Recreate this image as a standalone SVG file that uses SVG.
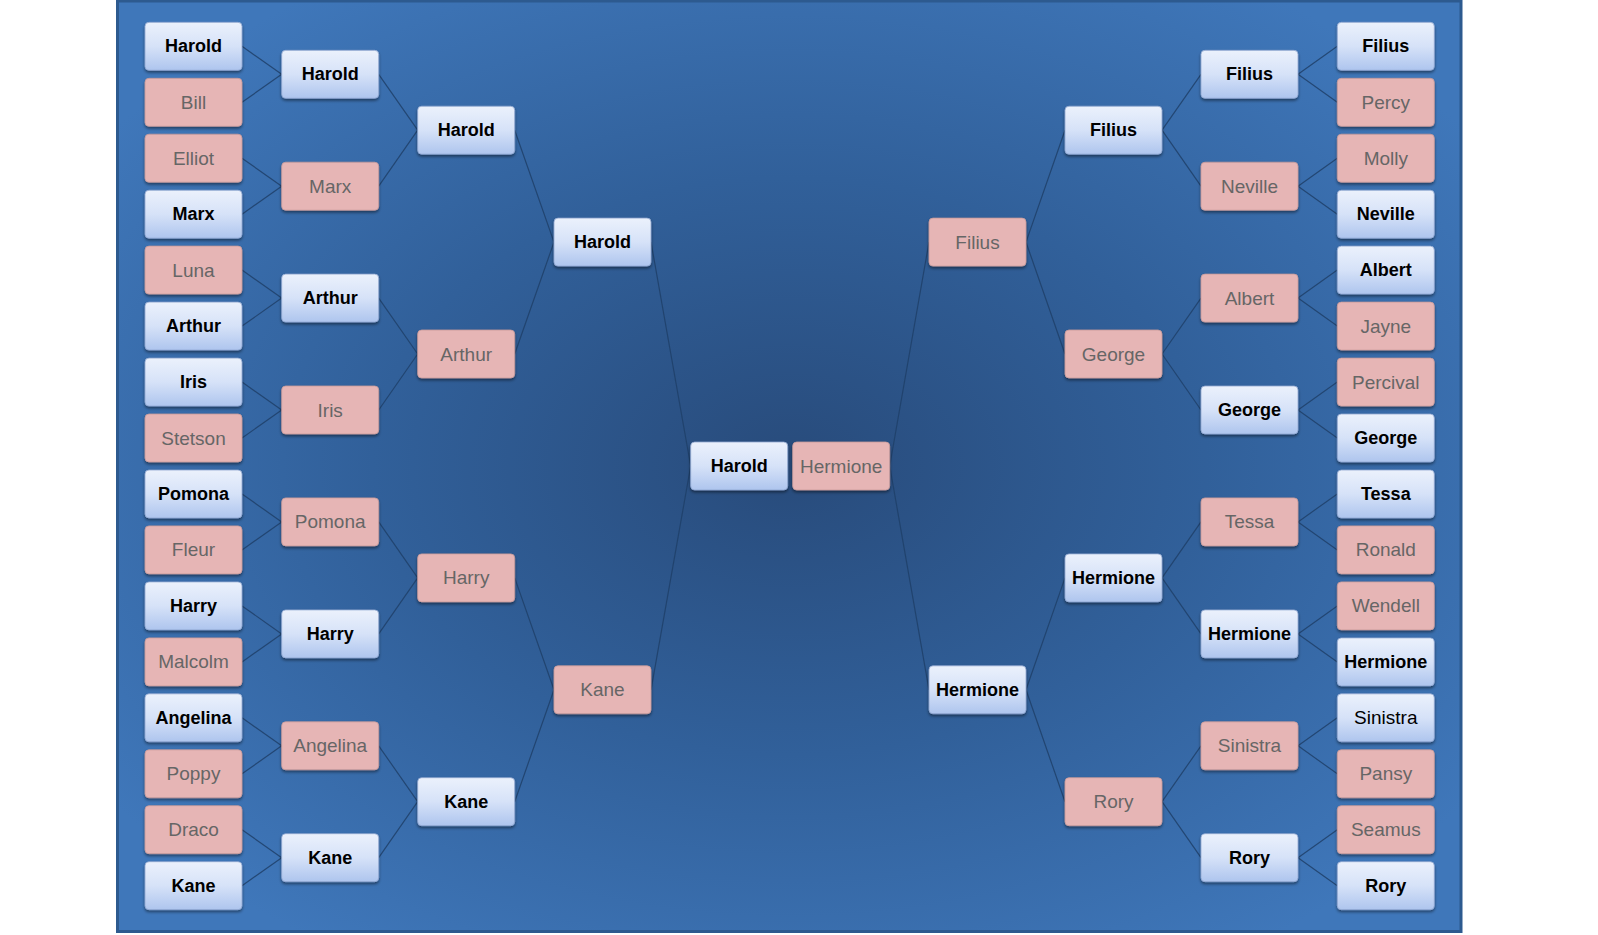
<svg xmlns="http://www.w3.org/2000/svg" width="1598" height="935" viewBox="0 0 1598 935">
<style>
.w rect{fill:url(#gw);stroke:#8fa6cf;stroke-width:0.8;filter:url(#sh)}
.l rect{fill:#e6b5b5;stroke:#c79a9a;stroke-width:0.8;filter:url(#sh)}
text{font-family:"Liberation Sans",Arial,sans-serif;text-anchor:middle;dominant-baseline:central}
.w text{font-size:18px;font-weight:bold;fill:#000}
.w text.n{font-weight:normal;font-size:19px}
.l text{font-size:19px;fill:#666}
#conn line{stroke:#1e3f68;stroke-width:1.2;stroke-opacity:0.85}
</style>
<defs>
<linearGradient id="gw" x1="0" y1="0" x2="0" y2="1">
<stop offset="0" stop-color="#ebf1fc"/><stop offset="0.5" stop-color="#d6e2f8"/><stop offset="1" stop-color="#aec5ee"/>
</linearGradient>
<radialGradient id="bg" cx="0.5" cy="0.5" r="0.62">
<stop offset="0" stop-color="#284b7b"/><stop offset="0.5" stop-color="#31609a"/><stop offset="1" stop-color="#3f77ba"/>
</radialGradient>
<filter id="sh" x="-10%" y="-10%" width="120%" height="130%">
<feDropShadow dx="0" dy="2" stdDeviation="1.5" flood-color="#000" flood-opacity="0.45"/>
</filter>
</defs>
<rect x="117.5" y="1" width="1343.5" height="930.5" fill="url(#bg)" stroke="#2d5a8f" stroke-width="3"/>
<g id="conn">
<line x1="242" y1="46.3" x2="281.7" y2="74.3"/><line x1="242" y1="102.3" x2="281.7" y2="74.3"/>
<line x1="242" y1="158.2" x2="281.7" y2="186.2"/><line x1="242" y1="214.2" x2="281.7" y2="186.2"/>
<line x1="242" y1="270.1" x2="281.7" y2="298.1"/><line x1="242" y1="326.1" x2="281.7" y2="298.1"/>
<line x1="242" y1="382.1" x2="281.7" y2="410"/><line x1="242" y1="438" x2="281.7" y2="410"/>
<line x1="242" y1="494" x2="281.7" y2="521.9"/><line x1="242" y1="549.9" x2="281.7" y2="521.9"/>
<line x1="242" y1="605.9" x2="281.7" y2="633.9"/><line x1="242" y1="661.9" x2="281.7" y2="633.9"/>
<line x1="242" y1="717.8" x2="281.7" y2="745.8"/><line x1="242" y1="773.8" x2="281.7" y2="745.8"/>
<line x1="242" y1="829.7" x2="281.7" y2="857.7"/><line x1="242" y1="885.7" x2="281.7" y2="857.7"/>
<line x1="378.7" y1="74.3" x2="417.7" y2="130.2"/><line x1="378.7" y1="186.2" x2="417.7" y2="130.2"/>
<line x1="378.7" y1="298.1" x2="417.7" y2="354"/><line x1="378.7" y1="410" x2="417.7" y2="354"/>
<line x1="378.7" y1="521.9" x2="417.7" y2="577.9"/><line x1="378.7" y1="633.9" x2="417.7" y2="577.9"/>
<line x1="378.7" y1="745.8" x2="417.7" y2="801.7"/><line x1="378.7" y1="857.7" x2="417.7" y2="801.7"/>
<line x1="514.7" y1="130.2" x2="554" y2="242.1"/><line x1="514.7" y1="354" x2="554" y2="242.1"/>
<line x1="514.7" y1="577.9" x2="554" y2="689.8"/><line x1="514.7" y1="801.7" x2="554" y2="689.8"/>
<line x1="651" y1="242.1" x2="690.7" y2="466"/><line x1="651" y1="689.8" x2="690.7" y2="466"/>
<line x1="1337.3" y1="46.3" x2="1298" y2="74.3"/><line x1="1337.3" y1="102.3" x2="1298" y2="74.3"/>
<line x1="1337.3" y1="158.2" x2="1298" y2="186.2"/><line x1="1337.3" y1="214.2" x2="1298" y2="186.2"/>
<line x1="1337.3" y1="270.1" x2="1298" y2="298.1"/><line x1="1337.3" y1="326.1" x2="1298" y2="298.1"/>
<line x1="1337.3" y1="382.1" x2="1298" y2="410"/><line x1="1337.3" y1="438" x2="1298" y2="410"/>
<line x1="1337.3" y1="494" x2="1298" y2="521.9"/><line x1="1337.3" y1="549.9" x2="1298" y2="521.9"/>
<line x1="1337.3" y1="605.9" x2="1298" y2="633.9"/><line x1="1337.3" y1="661.9" x2="1298" y2="633.9"/>
<line x1="1337.3" y1="717.8" x2="1298" y2="745.8"/><line x1="1337.3" y1="773.8" x2="1298" y2="745.8"/>
<line x1="1337.3" y1="829.7" x2="1298" y2="857.7"/><line x1="1337.3" y1="885.7" x2="1298" y2="857.7"/>
<line x1="1201" y1="74.3" x2="1162" y2="130.2"/><line x1="1201" y1="186.2" x2="1162" y2="130.2"/>
<line x1="1201" y1="298.1" x2="1162" y2="354"/><line x1="1201" y1="410" x2="1162" y2="354"/>
<line x1="1201" y1="521.9" x2="1162" y2="577.9"/><line x1="1201" y1="633.9" x2="1162" y2="577.9"/>
<line x1="1201" y1="745.8" x2="1162" y2="801.7"/><line x1="1201" y1="857.7" x2="1162" y2="801.7"/>
<line x1="1065" y1="130.2" x2="1026" y2="242.1"/><line x1="1065" y1="354" x2="1026" y2="242.1"/>
<line x1="1065" y1="577.9" x2="1026" y2="689.8"/><line x1="1065" y1="801.7" x2="1026" y2="689.8"/>
<line x1="929" y1="242.1" x2="889.7" y2="466"/><line x1="929" y1="689.8" x2="889.7" y2="466"/>
</g>
<g id="L1-1" class="w"><rect x="145" y="22.3" width="97" height="48" rx="4"/><text x="193.5" y="46.3">Harold</text></g>
<g id="L1-2" class="l"><rect x="145" y="78.3" width="97" height="48" rx="4"/><text x="193.5" y="102.3">Bill</text></g>
<g id="L1-3" class="l"><rect x="145" y="134.2" width="97" height="48" rx="4"/><text x="193.5" y="158.2">Elliot</text></g>
<g id="L1-4" class="w"><rect x="145" y="190.2" width="97" height="48" rx="4"/><text x="193.5" y="214.2">Marx</text></g>
<g id="L1-5" class="l"><rect x="145" y="246.1" width="97" height="48" rx="4"/><text x="193.5" y="270.1">Luna</text></g>
<g id="L1-6" class="w"><rect x="145" y="302.1" width="97" height="48" rx="4"/><text x="193.5" y="326.1">Arthur</text></g>
<g id="L1-7" class="w"><rect x="145" y="358.1" width="97" height="48" rx="4"/><text x="193.5" y="382.1">Iris</text></g>
<g id="L1-8" class="l"><rect x="145" y="414" width="97" height="48" rx="4"/><text x="193.5" y="438">Stetson</text></g>
<g id="L1-9" class="w"><rect x="145" y="470" width="97" height="48" rx="4"/><text x="193.5" y="494">Pomona</text></g>
<g id="L1-10" class="l"><rect x="145" y="525.9" width="97" height="48" rx="4"/><text x="193.5" y="549.9">Fleur</text></g>
<g id="L1-11" class="w"><rect x="145" y="581.9" width="97" height="48" rx="4"/><text x="193.5" y="605.9">Harry</text></g>
<g id="L1-12" class="l"><rect x="145" y="637.9" width="97" height="48" rx="4"/><text x="193.5" y="661.9">Malcolm</text></g>
<g id="L1-13" class="w"><rect x="145" y="693.8" width="97" height="48" rx="4"/><text x="193.5" y="717.8">Angelina</text></g>
<g id="L1-14" class="l"><rect x="145" y="749.8" width="97" height="48" rx="4"/><text x="193.5" y="773.8">Poppy</text></g>
<g id="L1-15" class="l"><rect x="145" y="805.7" width="97" height="48" rx="4"/><text x="193.5" y="829.7">Draco</text></g>
<g id="L1-16" class="w"><rect x="145" y="861.7" width="97" height="48" rx="4"/><text x="193.5" y="885.7">Kane</text></g>
<g id="L2-1" class="w"><rect x="281.7" y="50.3" width="97" height="48" rx="4"/><text x="330.2" y="74.3">Harold</text></g>
<g id="L2-2" class="l"><rect x="281.7" y="162.2" width="97" height="48" rx="4"/><text x="330.2" y="186.2">Marx</text></g>
<g id="L2-3" class="w"><rect x="281.7" y="274.1" width="97" height="48" rx="4"/><text x="330.2" y="298.1">Arthur</text></g>
<g id="L2-4" class="l"><rect x="281.7" y="386" width="97" height="48" rx="4"/><text x="330.2" y="410">Iris</text></g>
<g id="L2-5" class="l"><rect x="281.7" y="497.9" width="97" height="48" rx="4"/><text x="330.2" y="521.9">Pomona</text></g>
<g id="L2-6" class="w"><rect x="281.7" y="609.9" width="97" height="48" rx="4"/><text x="330.2" y="633.9">Harry</text></g>
<g id="L2-7" class="l"><rect x="281.7" y="721.8" width="97" height="48" rx="4"/><text x="330.2" y="745.8">Angelina</text></g>
<g id="L2-8" class="w"><rect x="281.7" y="833.7" width="97" height="48" rx="4"/><text x="330.2" y="857.7">Kane</text></g>
<g id="L3-1" class="w"><rect x="417.7" y="106.2" width="97" height="48" rx="4"/><text x="466.2" y="130.2">Harold</text></g>
<g id="L3-2" class="l"><rect x="417.7" y="330" width="97" height="48" rx="4"/><text x="466.2" y="354">Arthur</text></g>
<g id="L3-3" class="l"><rect x="417.7" y="553.9" width="97" height="48" rx="4"/><text x="466.2" y="577.9">Harry</text></g>
<g id="L3-4" class="w"><rect x="417.7" y="777.7" width="97" height="48" rx="4"/><text x="466.2" y="801.7">Kane</text></g>
<g id="L4-1" class="w"><rect x="554" y="218.1" width="97" height="48" rx="4"/><text x="602.5" y="242.1">Harold</text></g>
<g id="L4-2" class="l"><rect x="554" y="665.8" width="97" height="48" rx="4"/><text x="602.5" y="689.8">Kane</text></g>
<g id="C-1" class="w"><rect x="690.7" y="442" width="97" height="48" rx="4"/><text x="739.2" y="466">Harold</text></g>
<g id="C-2" class="l"><rect x="792.7" y="442" width="97" height="48" rx="4"/><text x="841.2" y="466">Hermione</text></g>
<g id="R4-1" class="l"><rect x="929" y="218.1" width="97" height="48" rx="4"/><text x="977.5" y="242.1">Filius</text></g>
<g id="R4-2" class="w"><rect x="929" y="665.8" width="97" height="48" rx="4"/><text x="977.5" y="689.8">Hermione</text></g>
<g id="R3-1" class="w"><rect x="1065" y="106.2" width="97" height="48" rx="4"/><text x="1113.5" y="130.2">Filius</text></g>
<g id="R3-2" class="l"><rect x="1065" y="330" width="97" height="48" rx="4"/><text x="1113.5" y="354">George</text></g>
<g id="R3-3" class="w"><rect x="1065" y="553.9" width="97" height="48" rx="4"/><text x="1113.5" y="577.9">Hermione</text></g>
<g id="R3-4" class="l"><rect x="1065" y="777.7" width="97" height="48" rx="4"/><text x="1113.5" y="801.7">Rory</text></g>
<g id="R2-1" class="w"><rect x="1201" y="50.3" width="97" height="48" rx="4"/><text x="1249.5" y="74.3">Filius</text></g>
<g id="R2-2" class="l"><rect x="1201" y="162.2" width="97" height="48" rx="4"/><text x="1249.5" y="186.2">Neville</text></g>
<g id="R2-3" class="l"><rect x="1201" y="274.1" width="97" height="48" rx="4"/><text x="1249.5" y="298.1">Albert</text></g>
<g id="R2-4" class="w"><rect x="1201" y="386" width="97" height="48" rx="4"/><text x="1249.5" y="410">George</text></g>
<g id="R2-5" class="l"><rect x="1201" y="497.9" width="97" height="48" rx="4"/><text x="1249.5" y="521.9">Tessa</text></g>
<g id="R2-6" class="w"><rect x="1201" y="609.9" width="97" height="48" rx="4"/><text x="1249.5" y="633.9">Hermione</text></g>
<g id="R2-7" class="l"><rect x="1201" y="721.8" width="97" height="48" rx="4"/><text x="1249.5" y="745.8">Sinistra</text></g>
<g id="R2-8" class="w"><rect x="1201" y="833.7" width="97" height="48" rx="4"/><text x="1249.5" y="857.7">Rory</text></g>
<g id="R1-1" class="w"><rect x="1337.3" y="22.3" width="97" height="48" rx="4"/><text x="1385.8" y="46.3">Filius</text></g>
<g id="R1-2" class="l"><rect x="1337.3" y="78.3" width="97" height="48" rx="4"/><text x="1385.8" y="102.3">Percy</text></g>
<g id="R1-3" class="l"><rect x="1337.3" y="134.2" width="97" height="48" rx="4"/><text x="1385.8" y="158.2">Molly</text></g>
<g id="R1-4" class="w"><rect x="1337.3" y="190.2" width="97" height="48" rx="4"/><text x="1385.8" y="214.2">Neville</text></g>
<g id="R1-5" class="w"><rect x="1337.3" y="246.1" width="97" height="48" rx="4"/><text x="1385.8" y="270.1">Albert</text></g>
<g id="R1-6" class="l"><rect x="1337.3" y="302.1" width="97" height="48" rx="4"/><text x="1385.8" y="326.1">Jayne</text></g>
<g id="R1-7" class="l"><rect x="1337.3" y="358.1" width="97" height="48" rx="4"/><text x="1385.8" y="382.1">Percival</text></g>
<g id="R1-8" class="w"><rect x="1337.3" y="414" width="97" height="48" rx="4"/><text x="1385.8" y="438">George</text></g>
<g id="R1-9" class="w"><rect x="1337.3" y="470" width="97" height="48" rx="4"/><text x="1385.8" y="494">Tessa</text></g>
<g id="R1-10" class="l"><rect x="1337.3" y="525.9" width="97" height="48" rx="4"/><text x="1385.8" y="549.9">Ronald</text></g>
<g id="R1-11" class="l"><rect x="1337.3" y="581.9" width="97" height="48" rx="4"/><text x="1385.8" y="605.9">Wendell</text></g>
<g id="R1-12" class="w"><rect x="1337.3" y="637.9" width="97" height="48" rx="4"/><text x="1385.8" y="661.9">Hermione</text></g>
<g id="R1-13" class="w"><rect x="1337.3" y="693.8" width="97" height="48" rx="4"/><text class="n" x="1385.8" y="717.8">Sinistra</text></g>
<g id="R1-14" class="l"><rect x="1337.3" y="749.8" width="97" height="48" rx="4"/><text x="1385.8" y="773.8">Pansy</text></g>
<g id="R1-15" class="l"><rect x="1337.3" y="805.7" width="97" height="48" rx="4"/><text x="1385.8" y="829.7">Seamus</text></g>
<g id="R1-16" class="w"><rect x="1337.3" y="861.7" width="97" height="48" rx="4"/><text x="1385.8" y="885.7">Rory</text></g>
</svg>
